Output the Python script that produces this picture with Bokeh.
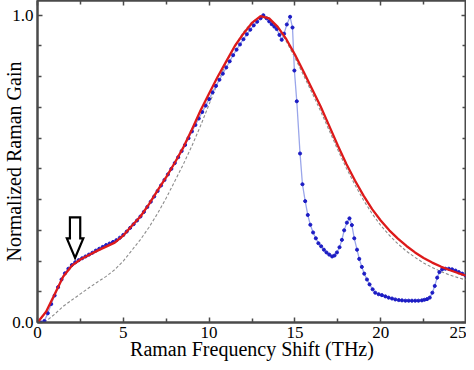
from bokeh.plotting import figure
from bokeh.models import LinearAxis, FixedTicker, Range1d, PrintfTickFormatter, CustomJSTickFormatter
from bokeh.embed import file_html
from bokeh.resources import INLINE

# ---------------- data ----------------
# measured Raman gain (blue dots)
meas_x = [0.2, 0.4, 0.6, 0.8, 1.0, 1.2, 1.4, 1.6, 1.8, 2.0, 2.2, 2.4, 2.6, 2.8, 3.0,
          3.2, 3.4, 3.6, 3.8, 4.0, 4.2, 4.4, 4.6, 4.8, 5.0, 5.2, 5.4, 5.6, 5.8, 6.0,
          6.2, 6.4, 6.6, 6.8, 7.0, 7.2, 7.4, 7.6, 7.8, 8.0, 8.2, 8.4, 8.6, 8.8, 9.0,
          9.2, 9.4, 9.6, 9.8, 10.0, 10.2, 10.4, 10.6, 10.8, 11.0, 11.2, 11.4, 11.6,
          11.8, 12.0, 12.2, 12.4, 12.6, 12.8, 13.0, 13.16, 13.35, 13.5, 13.65, 13.8,
          13.94, 14.1, 14.23, 14.37, 14.53, 14.72, 14.86, 14.97, 15.11, 15.3, 15.44,
          15.6, 15.75, 15.9, 16.06, 16.22, 16.37, 16.53, 16.69, 16.84, 17.0, 17.17,
          17.31, 17.45, 17.6, 17.74, 17.87, 18.03, 18.18, 18.32, 18.46, 18.62, 18.75,
          18.9, 19.04, 19.2, 19.35, 19.53, 19.68, 19.88, 20.07, 20.27, 20.46, 20.66,
          20.85, 21.05, 21.24, 21.44, 21.63, 21.82, 22.01, 22.2, 22.4, 22.55, 22.7,
          22.86, 23.01, 23.15, 23.29, 23.42, 23.58, 23.77, 23.97, 24.16, 24.36, 24.55,
          24.75, 24.94]
meas_y = [0.0, 0.005, 0.03, 0.06, 0.088, 0.115, 0.14, 0.16, 0.175, 0.187, 0.196, 0.203,
          0.209, 0.215, 0.221, 0.227, 0.234, 0.24, 0.246, 0.252, 0.257, 0.262, 0.268,
          0.276, 0.285, 0.296, 0.308, 0.32, 0.332, 0.345, 0.36, 0.376, 0.393, 0.41,
          0.428, 0.446, 0.464, 0.482, 0.5, 0.519, 0.538, 0.558, 0.578, 0.6, 0.622,
          0.643, 0.664, 0.685, 0.706, 0.727, 0.749, 0.77, 0.79, 0.81, 0.83, 0.85, 0.87,
          0.888, 0.905, 0.922, 0.938, 0.953, 0.967, 0.979, 0.99, 1.0, 0.99, 0.98, 0.971,
          0.963, 0.955, 0.936, 0.92, 0.94, 0.97, 0.995, 0.96, 0.82, 0.72, 0.55, 0.45,
          0.395, 0.35, 0.318, 0.293, 0.274, 0.258, 0.248, 0.237, 0.228, 0.221, 0.215,
          0.218, 0.228, 0.245, 0.269, 0.30, 0.325, 0.339, 0.317, 0.274, 0.237, 0.207,
          0.181, 0.159, 0.14, 0.124, 0.108, 0.097, 0.092, 0.089, 0.085, 0.081, 0.078,
          0.075, 0.073, 0.072, 0.071, 0.071, 0.071, 0.071, 0.071, 0.072, 0.074, 0.076,
          0.081, 0.097, 0.119, 0.146, 0.164, 0.173, 0.175, 0.175, 0.173, 0.169, 0.164,
          0.159, 0.153]

# fitted gain (red) and single-peak reference (grey dashed)
fit_x = [0.0, 0.5, 1.0, 1.5, 2.0, 2.5, 3.0, 3.5, 4.0, 4.5, 5.0, 5.5, 6.0, 6.5, 7.0,
         7.5, 8.0, 8.5, 9.0, 9.5, 10.0, 10.5, 11.0, 11.5, 12.0, 12.5, 13.0, 13.5,
         14.0, 14.5, 15.0, 15.5, 16.0, 16.5, 17.0, 17.5, 18.0, 18.5, 19.0, 19.5,
         20.0, 20.5, 21.0, 21.5, 22.0, 22.5, 23.0, 23.5, 24.0, 24.5, 25.0]
fit_y = [0.0, 0.035, 0.092, 0.15, 0.185, 0.205, 0.22, 0.234, 0.247, 0.26, 0.283,
         0.315, 0.345, 0.385, 0.43, 0.473, 0.52, 0.57, 0.628, 0.69, 0.745, 0.8, 0.85,
         0.9, 0.94, 0.975, 0.997, 0.99, 0.962, 0.922, 0.872, 0.817, 0.76, 0.703, 0.64,
         0.576, 0.516, 0.462, 0.413, 0.369, 0.332, 0.30, 0.273, 0.249, 0.228, 0.21,
         0.195, 0.182, 0.171, 0.161, 0.152]
ref_x = [0.4, 1.0, 1.5, 2.0, 2.5, 3.0, 3.5, 4.0, 4.5, 5.0, 5.5, 6.0, 6.5, 7.0, 7.5,
         8.0, 8.5, 9.0, 9.5, 10.0, 10.5, 11.0, 11.5, 12.0, 12.5, 13.0, 13.5, 14.0,
         14.5, 15.0, 15.5, 16.0, 16.5, 17.0, 17.5, 18.0, 18.5, 19.0, 19.5, 20.0, 20.5,
         21.0, 21.5, 22.0, 22.5, 23.0, 23.5, 24.0, 24.5, 25.0]
ref_y = [0.0, 0.027, 0.053, 0.073, 0.093, 0.113, 0.132, 0.15, 0.172, 0.2, 0.235,
         0.27, 0.31, 0.355, 0.405, 0.46, 0.515, 0.575, 0.64, 0.71, 0.78, 0.845, 0.9,
         0.945, 0.978, 0.995, 0.99, 0.96, 0.915, 0.862, 0.805, 0.747, 0.688, 0.625,
         0.562, 0.502, 0.448, 0.398, 0.354, 0.316, 0.284, 0.256, 0.232, 0.212, 0.194,
         0.179, 0.166, 0.155, 0.146, 0.138]

X_TICKS = [0, 5, 10, 15, 20, 25]
X_MINOR = [2.5, 7.5, 12.5, 17.5, 22.5]
Y_TICKS = [0.0, 1.0]
Y_MINOR = [0.1, 0.2, 0.3, 0.4, 0.5, 0.6, 0.7, 0.8, 0.9]

X_LABEL = "Raman Frequency Shift (THz)"
Y_LABEL = "Normalized Raman Gain"

# annotation arrow (hollow, pointing down)
ARROW_X = 2.19
ARROW_TOP, ARROW_NECK, ARROW_TIP = 0.342, 0.274, 0.21
ARROW_SHAFT_HW, ARROW_HEAD_HW = 0.3, 0.48

FONT = "'Liberation Serif', 'Times New Roman', serif"
FRAME = "#4a4a4a"

p = figure(width=466, height=362, x_range=Range1d(0, 25), y_range=Range1d(0, 1.048),
           output_backend="svg", toolbar_location=None,
           min_border_left=0, min_border_right=0, min_border_top=0, min_border_bottom=0)
p.grid.visible = False
p.outline_line_color = FRAME
p.outline_line_width = 2
p.background_fill_color = "white"
p.border_fill_color = "white"

def style_axis(ax, ticks, minor, show_labels):
    ax.ticker = FixedTicker(ticks=ticks, minor_ticks=minor)
    ax.axis_line_color = FRAME
    ax.axis_line_width = 2
    ax.major_tick_line_color = FRAME
    ax.minor_tick_line_color = FRAME
    ax.major_tick_line_width = 1.5
    ax.minor_tick_line_width = 1.5
    ax.major_tick_in = 5
    ax.major_tick_out = 0
    ax.minor_tick_in = 4
    ax.minor_tick_out = 0
    if show_labels:
        ax.major_label_text_font = FONT
        ax.major_label_text_font_size = "17px"
        ax.major_label_text_color = "black"
        ax.major_label_standoff = 4
    else:
        ax.formatter = CustomJSTickFormatter(code="return ''")
        ax.major_label_standoff = 0

xax = p.xaxis[0]
style_axis(xax, X_TICKS, X_MINOR, True)
xax.axis_label = X_LABEL
xax.axis_label_text_font = FONT
xax.axis_label_text_font_size = "20px"
xax.axis_label_text_font_style = "normal"
xax.axis_label_text_color = "black"
xax.axis_label_standoff = -3

yax = p.yaxis[0]
style_axis(yax, Y_TICKS, Y_MINOR, True)
yax.formatter = PrintfTickFormatter(format="%.1f")
yax.axis_label = Y_LABEL
yax.axis_label_text_font = FONT
yax.axis_label_text_font_size = "20px"
yax.axis_label_text_font_style = "normal"
yax.axis_label_text_color = "black"
yax.axis_label_standoff = -16

top = LinearAxis()
style_axis(top, X_TICKS, X_MINOR, False)
p.add_layout(top, "above")
right = LinearAxis()
style_axis(right, Y_TICKS, Y_MINOR, False)
p.add_layout(right, "right")

# curves
p.line(ref_x, ref_y, line_color="#8c8c8c", line_width=1.1, line_dash="3 2")
p.line(meas_x, meas_y, line_color="#9aa6ea", line_width=1.3)
p.scatter(meas_x, meas_y, size=3.1, fill_color="#1c1cc4", line_color="#1c1cc4")
p.line(fit_x, fit_y, line_color="#dd1a1a", line_width=2.3)

# arrow annotation
ax_pts = [ARROW_X - ARROW_SHAFT_HW, ARROW_X + ARROW_SHAFT_HW, ARROW_X + ARROW_SHAFT_HW,
          ARROW_X + ARROW_HEAD_HW, ARROW_X, ARROW_X - ARROW_HEAD_HW, ARROW_X - ARROW_SHAFT_HW]
ay_pts = [ARROW_TOP, ARROW_TOP, ARROW_NECK, ARROW_NECK, ARROW_TIP, ARROW_NECK, ARROW_NECK]
p.patch(ax_pts, ay_pts, fill_color="white", line_color="black", line_width=2.2,
        line_join="miter")

open("out.html", "w").write(file_html(p, INLINE))
